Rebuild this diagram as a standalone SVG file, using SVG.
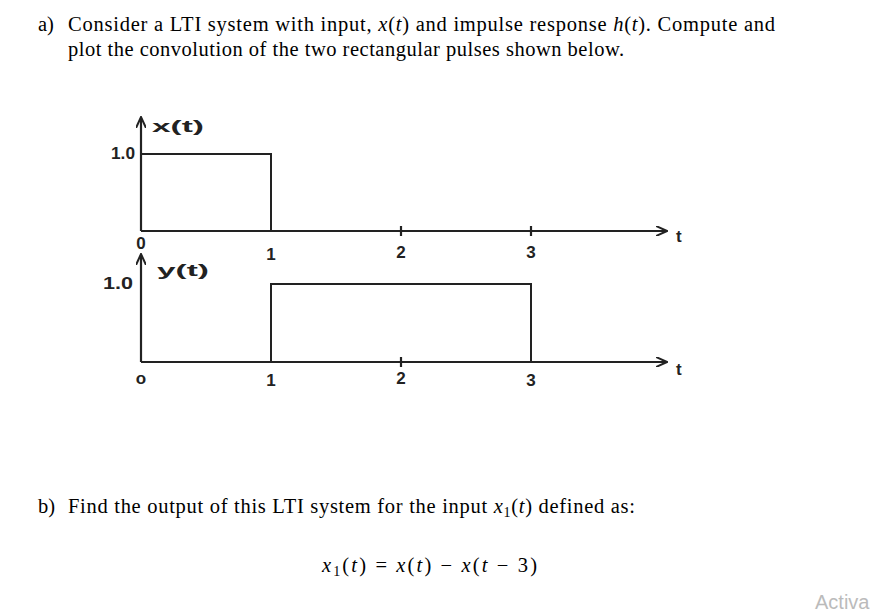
<svg xmlns="http://www.w3.org/2000/svg" width="877" height="613" viewBox="0 0 877 613">
<style>
.t{font-family:"Liberation Serif",serif;font-size:20.5px;fill:#000}
.i{font-style:italic}
.h{font-family:"Liberation Sans",sans-serif;font-size:17px;fill:#222;font-weight:bold}
.ax{stroke:#222;stroke-width:2.2;fill:none}
.p{stroke:#222;stroke-width:2;fill:none}
</style>
<defs><marker id="ar" markerWidth="12" markerHeight="10" refX="10" refY="5" orient="auto" markerUnits="userSpaceOnUse"><path d="M0,0 L11,5 L0,10" fill="none" stroke="#222" stroke-width="2"/></marker></defs>
<rect width="877" height="613" fill="#fff"/>
<text class="t" x="38" y="31">a)</text>
<text class="t" x="68" y="31" textLength="707" lengthAdjust="spacing">Consider a LTI system with input, <tspan class="i">x</tspan>(<tspan class="i">t</tspan>) and impulse response <tspan class="i">h</tspan>(<tspan class="i">t</tspan>). Compute and</text>
<text class="t" x="68" y="56" textLength="556" lengthAdjust="spacing">plot the convolution of the two rectangular pulses shown below.</text>
<g id="top">
<line class="ax" x1="141" y1="231" x2="141" y2="118" marker-end="url(#ar)"/>
<line class="ax" x1="141" y1="231" x2="666" y2="231" marker-end="url(#ar)"/>
<polyline class="p" points="141,154 271,154 271,231"/>
<line class="ax" x1="401" y1="226" x2="401" y2="236"/>
<line class="ax" x1="531" y1="226" x2="531" y2="236"/>
<text class="h" x="152" y="132" font-size="20" textLength="52" lengthAdjust="spacingAndGlyphs">x(t)</text>
<text class="h" x="111" y="159" font-size="12" textLength="24" lengthAdjust="spacingAndGlyphs">1.0</text>
<text class="h" x="141" y="249" text-anchor="middle">0</text>
<text class="h" x="271" y="260" text-anchor="middle" font-size="12">1</text>
<text class="h" x="401" y="258" text-anchor="middle" font-size="13">2</text>
<text class="h" x="531" y="258" text-anchor="middle" font-size="13">3</text>
<text class="h" x="676" y="242" font-size="24">t</text>
</g>
<g id="bottom">
<line class="ax" x1="141" y1="362" x2="141" y2="255" marker-end="url(#ar)"/>
<line class="ax" x1="141" y1="362" x2="666" y2="362" marker-end="url(#ar)"/>
<polyline class="p" points="271,362 271,284 531,284 531,362"/>
<line class="ax" x1="401" y1="357" x2="401" y2="367"/>
<text class="h" x="157" y="276" font-size="20" textLength="52" lengthAdjust="spacingAndGlyphs">y(t)</text>
<text class="h" x="103" y="289" font-size="12" textLength="30" lengthAdjust="spacingAndGlyphs">1.0</text>
<text class="h" x="141" y="384" text-anchor="middle">o</text>
<text class="h" x="271" y="386" text-anchor="middle" font-size="12">1</text>
<text class="h" x="401" y="384" text-anchor="middle" font-size="13">2</text>
<text class="h" x="531" y="386" text-anchor="middle" font-size="13">3</text>
<text class="h" x="676" y="375" font-size="24">t</text>
</g>
<text class="t" x="38" y="513">b)</text>
<text class="t" x="68" y="513" textLength="567" lengthAdjust="spacing">Find the output of  this LTI system for the input <tspan class="i">x</tspan><tspan font-size="14" dy="4">1</tspan><tspan dy="-4">(</tspan><tspan class="i">t</tspan>) defined as:</text>
<text class="t" x="322" y="572" textLength="215" lengthAdjust="spacing"><tspan class="i">x</tspan><tspan font-size="14" dy="4">1</tspan><tspan dy="-4">(</tspan><tspan class="i">t</tspan>) = <tspan class="i">x</tspan>(<tspan class="i">t</tspan>) − <tspan class="i">x</tspan>(<tspan class="i">t</tspan> − 3)</text>
<text x="815" y="609" font-family="Liberation Sans,sans-serif" font-size="20" fill="#bbb">Activa</text>
</svg>
